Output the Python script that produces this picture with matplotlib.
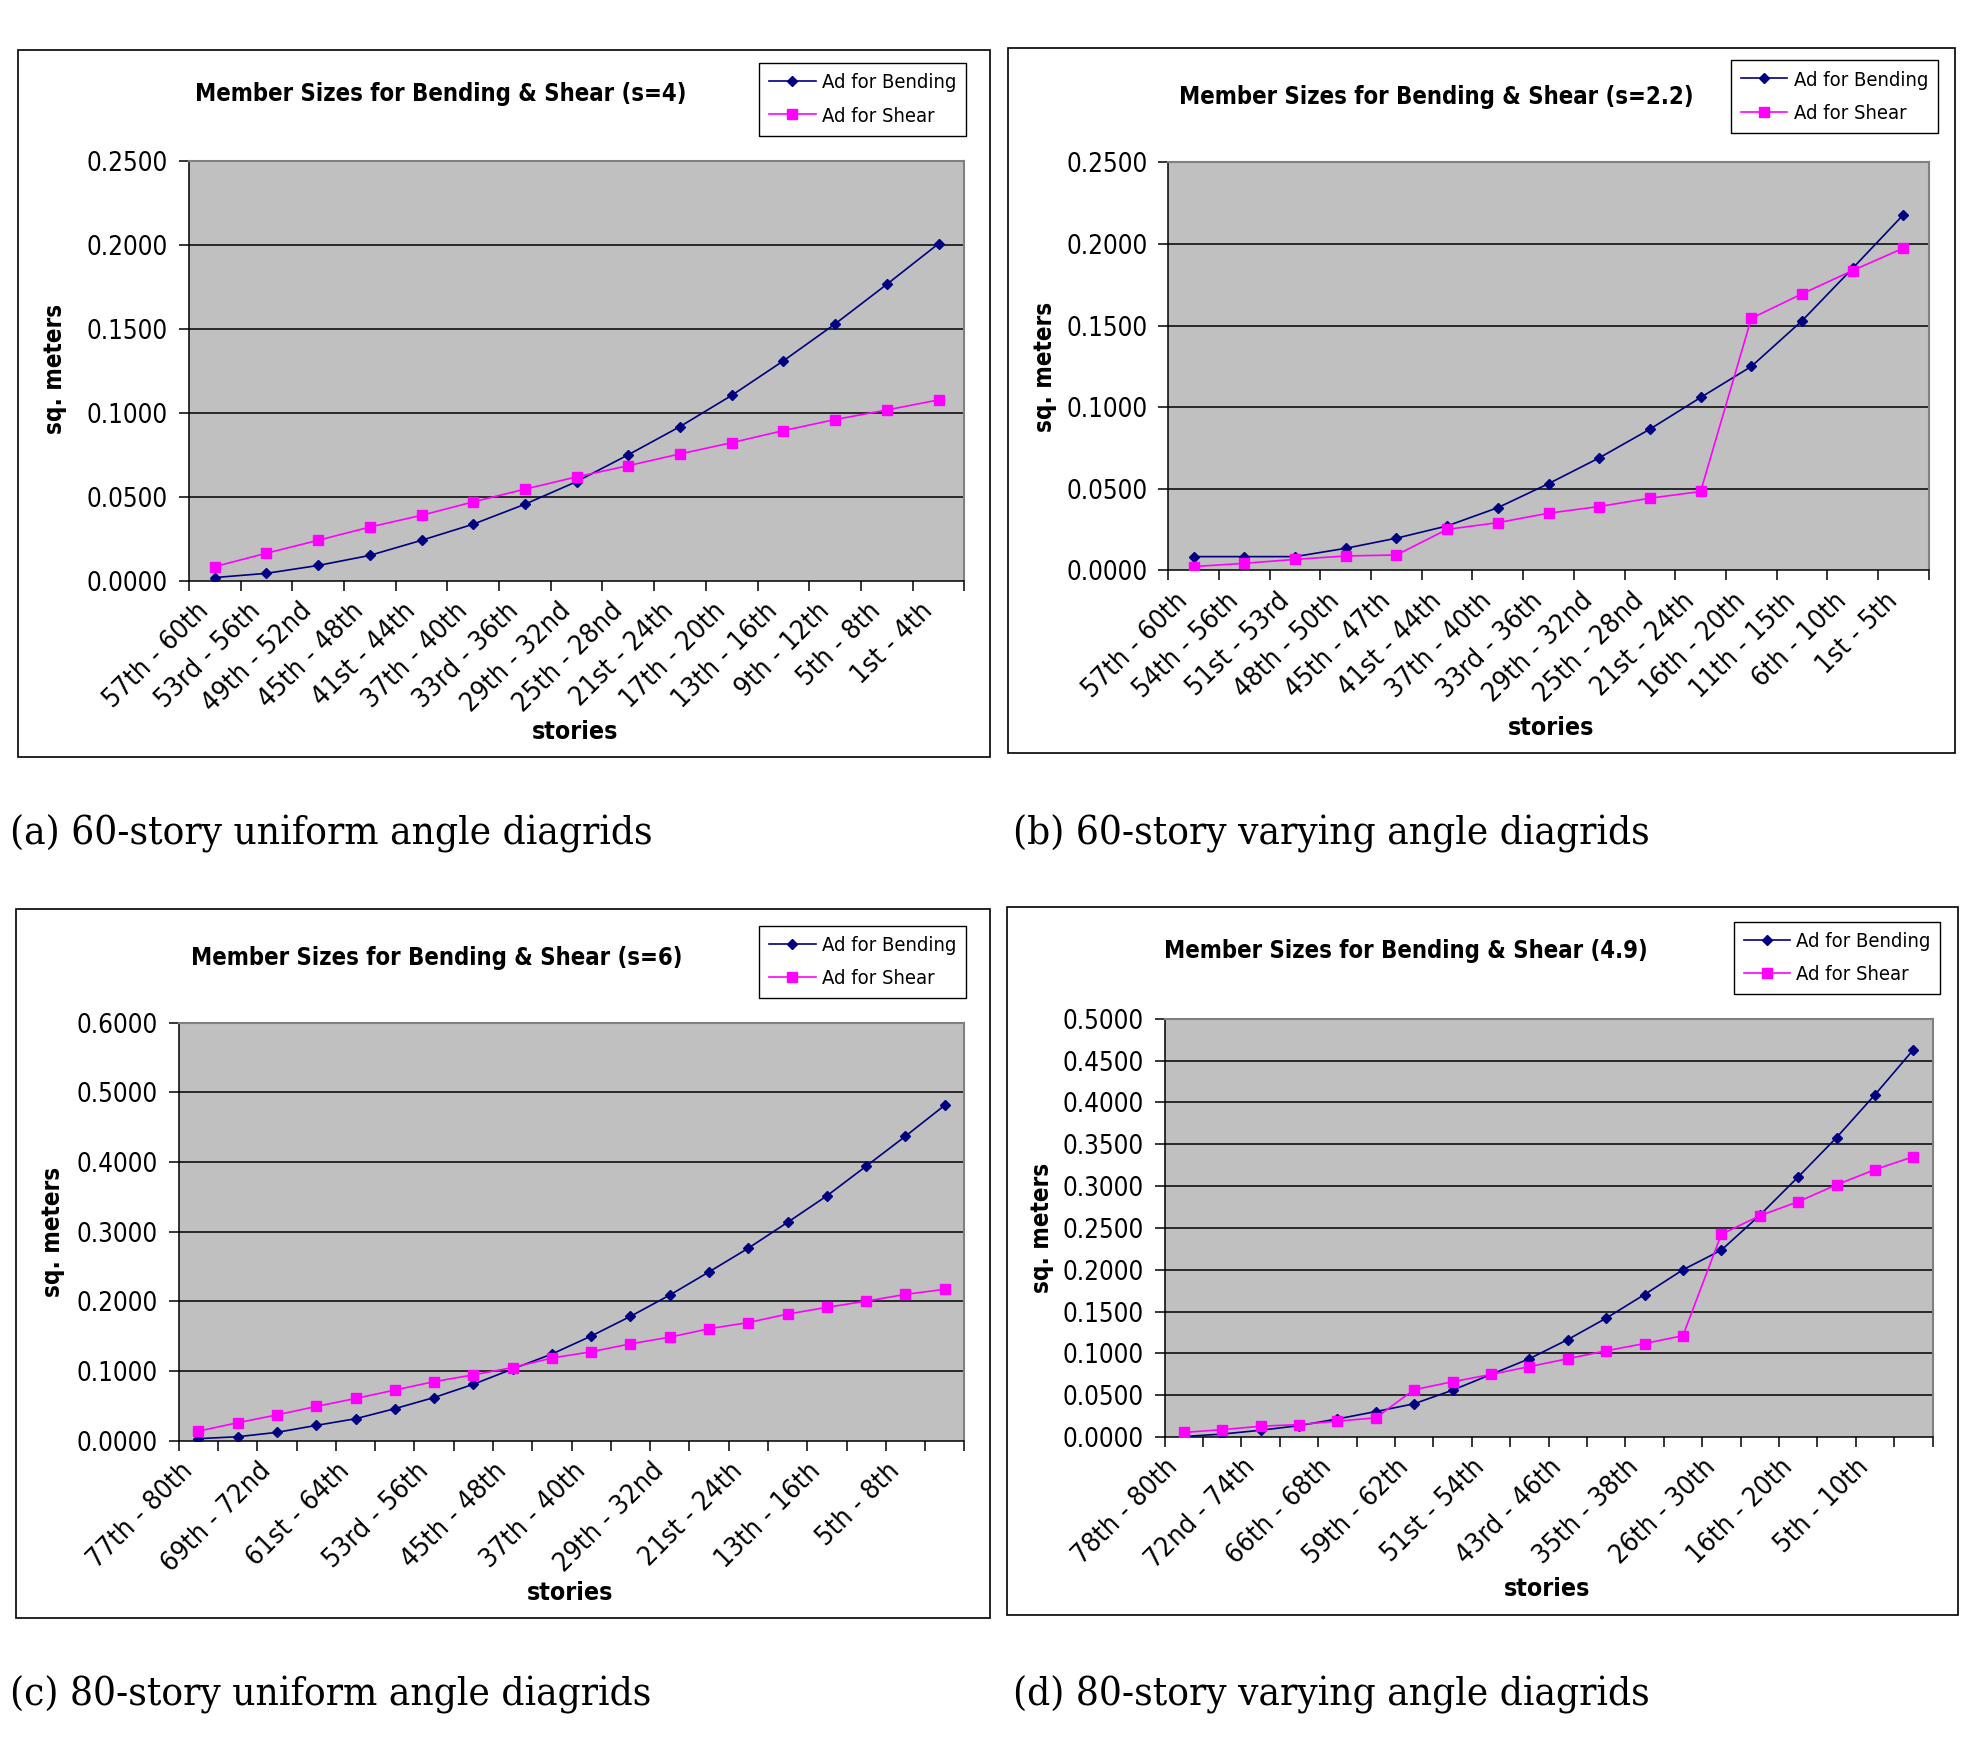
import os
import numpy as np
import matplotlib
matplotlib.use("Agg")
import matplotlib.pyplot as plt
from matplotlib import font_manager as fm
from matplotlib.patches import Rectangle
from matplotlib.transforms import ScaledTranslation

# %% data
cats_a = ["57th - 60th", "53rd - 56th", "49th - 52nd", "45th - 48th", "41st - 44th",
          "37th - 40th", "33rd - 36th", "29th - 32nd", "25th - 28nd", "21st - 24th",
          "17th - 20th", "13th - 16th", "9th - 12th", "5th - 8th", "1st - 4th"]
bend_a = [0.0018, 0.0043, 0.0090, 0.0150, 0.0240, 0.0336, 0.0455, 0.0590, 0.0750, 0.0918,
          0.1104, 0.1310, 0.1530, 0.1766, 0.2008]
shear_a = [0.0083, 0.0163, 0.0240, 0.0319, 0.0389, 0.0469, 0.0545, 0.0618, 0.0685, 0.0755,
           0.0822, 0.0894, 0.0960, 0.1017, 0.1077]

cats_b = ["57th - 60th", "54th - 56th", "51st - 53rd", "48th - 50th", "45th - 47th",
          "41st - 44th", "37th - 40th", "33rd - 36th", "29th - 32nd", "25th - 28nd",
          "21st - 24th", "16th - 20th", "11th - 15th", "6th - 10th", "1st - 5th"]
bend_b = [0.0085, 0.0085, 0.0085, 0.0136, 0.0198, 0.0273, 0.0385, 0.0532, 0.0690, 0.0866,
          0.1060, 0.1250, 0.1530, 0.1852, 0.2180]
shear_b = [0.0024, 0.0044, 0.0068, 0.0089, 0.0095, 0.0252, 0.0293, 0.0351, 0.0392, 0.0443,
           0.0484, 0.1545, 0.1695, 0.1838, 0.1975]

cats_c = ["77th - 80th", "73rd - 76th", "69th - 72nd", "65th - 68th", "61st - 64th",
          "57th - 60th", "53rd - 56th", "49th - 52nd", "45th - 48th", "41st - 44th",
          "37th - 40th", "33rd - 36th", "29th - 32nd", "25th - 28th", "21st - 24th",
          "17th - 20th", "13th - 16th", "9th - 12th", "5th - 8th", "1st - 4th"]
bend_c = [0.0030, 0.0057, 0.0120, 0.0220, 0.0315, 0.0460, 0.0620, 0.0810, 0.1030, 0.1244,
          0.1502, 0.1785, 0.2090, 0.2423, 0.2763, 0.3134, 0.3514, 0.3940, 0.4370, 0.4814]
shear_c = [0.0137, 0.0258, 0.0370, 0.0492, 0.0606, 0.0727, 0.0848, 0.0945, 0.1050, 0.1187,
           0.1276, 0.1390, 0.1486, 0.1607, 0.1696, 0.1817, 0.1914, 0.2003, 0.2100, 0.2173]

cats_d = ["78th - 80th", "75th - 77th", "72nd - 74th", "69th - 71st", "66th - 68th",
          "63rd - 65th", "59th - 62th", "55th - 58th", "51st - 54th", "47th - 50th",
          "43rd - 46th", "39th - 42nd", "35th - 38th", "31st - 34th", "26th - 30th",
          "21st - 25th", "16th - 20th", "11th - 15th", "5th - 10th", "1st - 4th"]
bend_d = [0.0005, 0.0034, 0.0080, 0.0135, 0.0215, 0.0303, 0.0397, 0.0559, 0.0747, 0.0935,
          0.1164, 0.1420, 0.1703, 0.1999, 0.2234, 0.2651, 0.3109, 0.3580, 0.4092, 0.4630]
shear_d = [0.0054, 0.0087, 0.0128, 0.0148, 0.0188, 0.0229, 0.0565, 0.0660, 0.0747, 0.0841,
           0.0935, 0.1030, 0.1117, 0.1211, 0.2423, 0.2645, 0.2813, 0.3015, 0.3197, 0.3351]

titles = ["Member Sizes for Bending & Shear (s=4)",
          "Member Sizes for Bending & Shear (s=2.2)",
          "Member Sizes for Bending & Shear (s=6)",
          "Member Sizes for Bending & Shear (4.9)"]
captions = ["(a) 60-story uniform angle diagrids",
            "(b) 60-story varying angle diagrids",
            "(c) 80-story uniform angle diagrids",
            "(d) 80-story varying angle diagrids"]
ymax = [0.25, 0.25, 0.6, 0.5]
ystep = [0.05, 0.05, 0.1, 0.05]
label_step = [1, 1, 2, 2]

fig = plt.figure(figsize=(19.64, 17.48), dpi=100)
fig.patch.set_facecolor("white")

# %% fonts : condensed DejaVu when present, sizes fitted to the widths seen in the reference
def find_file(name):
    for f in fm.fontManager.ttflist:
        if os.path.basename(f.fname) == name:
            return f.fname
    return None

def make_fp(fname, family, bold=False):
    f = find_file(fname)
    if f:
        return fm.FontProperties(fname=f, size=12)
    return fm.FontProperties(family=family, weight="bold" if bold else "normal", size=12)

renderer = fig.canvas.get_renderer()
def fit(fp, sample, width_px):
    t = fig.text(0, 0, sample, fontproperties=fp)
    w = t.get_window_extent(renderer).width
    t.remove()
    fp = fp.copy()
    fp.set_size(12 * width_px / w)
    return fp

fp_reg = make_fp("DejaVuSansCondensed.ttf", "DejaVu Sans")
fp_bold = make_fp("DejaVuSansCondensed-Bold.ttf", "DejaVu Sans", bold=True)
fp_ser = make_fp("DejaVuSerifCondensed.ttf", "DejaVu Serif")

fp_ytick = fit(fp_reg, "0.2500", 81)
fp_xtick = fit(fp_reg, "57th - 60th", 136)
fp_leg = fit(fp_reg, "Ad for Bending", 135)
fp_title = fit(fp_bold, titles[0], 492)
fp_ylab = fit(fp_bold, "sq. meters", 130)
fp_xlab = fit(fp_bold, "stories", 86)
fp_cap = fit(fp_ser, captions[0], 646)

# %% layout (reference measured on a 1560 x 1388 view)
W, H = 1560.0, 1388.0
def fx(x): return x / W
def fy(y): return 1 - y / H

plot_px = [(150, 128, 766, 461), (928, 129, 1532, 453),
           (142, 812, 766, 1144), (925, 809, 1535, 1141)]
frame_px = [(14, 40, 786, 601), (801, 38, 1553, 598),
            (13, 722, 786, 1285), (800, 720, 1555, 1282)]
title_px = [(350, 75), (1141, 77), (347, 761), (1117, 755)]
ylab_px = [(44, 293), (830, 291), (42, 978), (828, 975)]
xlab_px = [(457, 581), (1232, 578), (453, 1265), (1229, 1262)]
leg_px = [(603, 50), (1375, 48), (603, 735), (1377, 732)]
cap_px = [(8, 662), (805, 662), (8, 1346), (805, 1346)]

data = [(cats_a, bend_a, shear_a), (cats_b, bend_b, shear_b),
        (cats_c, bend_c, shear_c), (cats_d, bend_d, shear_d)]

for i, (cats, bend, shear) in enumerate(data):
    x0, y0, x1, y1 = plot_px[i]
    ax = fig.add_axes([fx(x0), fy(y1), fx(x1) - fx(x0), (y1 - y0) / H])
    ax.set_facecolor("#C0C0C0")
    n = len(cats)
    x = np.arange(n)
    ax.plot(x, bend, color="#000080", marker="D", markersize=5.5, lw=1.2,
            label="Ad for Bending", zorder=3)
    ax.plot(x, shear, color="#FF00FF", marker="s", markersize=7, lw=1.2,
            label="Ad for Shear", zorder=3)
    ax.set_xlim(-0.5, n - 0.5)
    ax.set_ylim(0, ymax[i])
    yt = np.arange(0, ymax[i] + 1e-9, ystep[i])
    ax.set_yticks(yt)
    ax.set_yticklabels([f"{v:.4f}" for v in yt], fontproperties=fp_ytick)
    for v in yt[1:-1]:
        ax.axhline(v, color="black", lw=1.1, zorder=1)
    # category boundaries as ticks, labels at centres
    ax.set_xticks(np.arange(-0.5, n, 1.0), minor=True)
    ax.set_xticks(x[::label_step[i]])
    ax.set_xticklabels(cats[::label_step[i]], rotation=45, ha="right", va="center",
                       rotation_mode="anchor", fontproperties=fp_xtick)
    ax.tick_params(axis="x", which="major", length=0, pad=19)
    ax.tick_params(axis="x", which="minor", length=7, width=1.1, direction="out")
    ax.tick_params(axis="y", length=7, width=1.1, direction="out", pad=8)
    # nudge the rotated labels left (after tick_params, which resets transforms)
    shift = ScaledTranslation(-7 / 72, 0, fig.dpi_scale_trans)
    for lab in ax.get_xticklabels():
        lab.set_transform(lab.get_transform() + shift)
    for s in ["top", "right"]:
        ax.spines[s].set_color("#808080")
        ax.spines[s].set_linewidth(1.5)
    for s in ["left", "bottom"]:
        ax.spines[s].set_color("black")
        ax.spines[s].set_linewidth(1.1)

    fr = frame_px[i]
    fig.patches.append(Rectangle((fx(fr[0]), fy(fr[3])), fx(fr[2]) - fx(fr[0]),
                                 (fr[3] - fr[1]) / H, transform=fig.transFigure,
                                 fill=False, edgecolor="black", lw=1.2))

    tx, ty = title_px[i]
    fig.text(fx(tx), fy(ty), titles[i], ha="center", va="center", fontproperties=fp_title)
    lx, ly = ylab_px[i]
    fig.text(fx(lx), fy(ly), "sq. meters", ha="center", va="center", rotation=90,
             fontproperties=fp_ylab)
    sx, sy = xlab_px[i]
    fig.text(fx(sx), fy(sy), "stories", ha="center", va="center", fontproperties=fp_xlab)

    gx, gy = leg_px[i]
    leg = ax.legend(loc="upper left", bbox_to_anchor=(fx(gx), fy(gy)),
                    bbox_transform=fig.transFigure, fancybox=False, shadow=False,
                    framealpha=1, edgecolor="black", prop=fp_leg,
                    handlelength=2.3, handletextpad=0.3, borderpad=0.5,
                    labelspacing=0.72, borderaxespad=0)
    leg.get_frame().set_linewidth(1.0)

    cx, cy = cap_px[i]
    fig.text(fx(cx), fy(cy), captions[i], ha="left", va="center", fontproperties=fp_cap)

fig.savefig("out.png", dpi=100, facecolor="white")
